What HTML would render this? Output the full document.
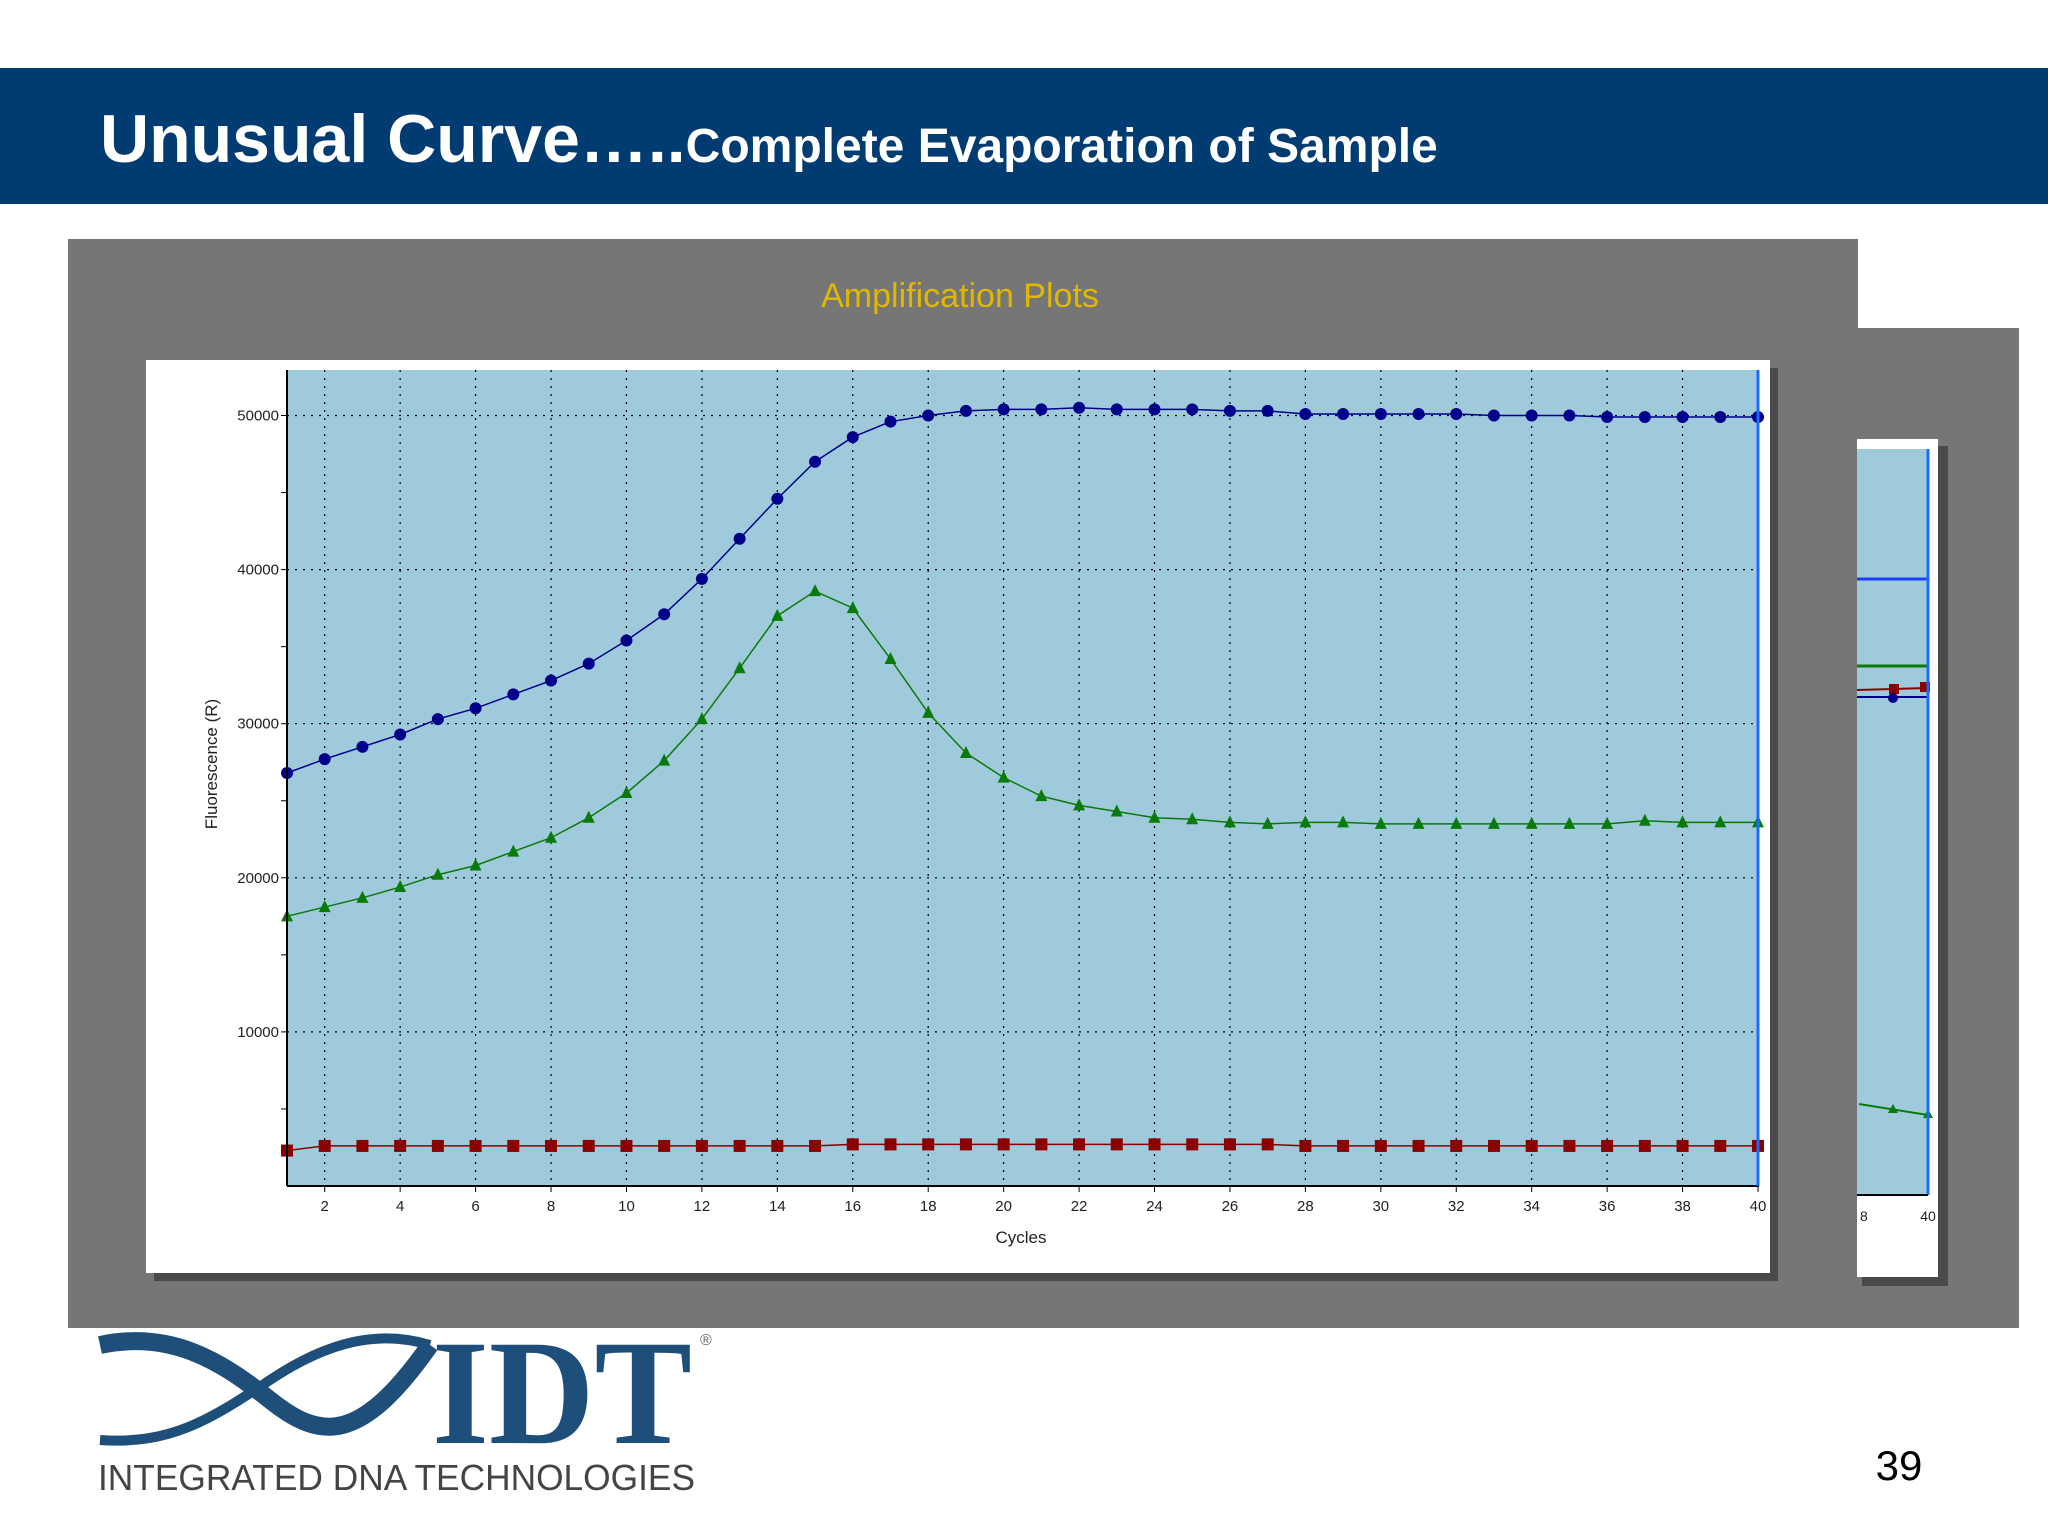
<!DOCTYPE html>
<html><head><meta charset="utf-8"><style>
html,body{margin:0;padding:0;background:#fff}
svg{display:block}
</style></head><body>
<svg id="s" width="2048" height="1536" viewBox="0 0 2048 1536" xmlns="http://www.w3.org/2000/svg" font-family="Liberation Sans, sans-serif">
<rect x="0" y="0" width="2048" height="1536" fill="#ffffff"/>
<rect x="0" y="68" width="2048" height="136" fill="#003b71"/>
<text x="100" y="162" fill="#fff" font-weight="bold" font-size="68">Unusual Curve…..<tspan font-size="48">Complete Evaporation of Sample</tspan></text>
<rect x="68" y="239" width="1790" height="1089" fill="#767676"/>
<rect x="1857" y="328" width="162" height="1000" fill="#767676"/>
<text x="960" y="307" text-anchor="middle" fill="#e0b800" font-size="34">Amplification Plots</text>
<rect x="154" y="368" width="1624" height="913" fill="#4a4a4a"/>
<rect x="146" y="360" width="1624" height="913" fill="#ffffff"/>
<rect x="287" y="370" width="1472" height="815" fill="#9fcadb"/>
<g id="grid"></g>
<g id="series"></g>
<line x1="287" y1="370" x2="287" y2="1186" stroke="#000" stroke-width="2"/>
<line x1="287" y1="1186" x2="1759" y2="1186" stroke="#000" stroke-width="2"/>
<line x1="1758" y1="370" x2="1758" y2="1186" stroke="#1a6cff" stroke-width="3"/>
<text transform="translate(217,764) rotate(-90)" text-anchor="middle" font-size="17" fill="#222">Fluorescence (R)</text>
<text x="1021" y="1243" text-anchor="middle" font-size="17" fill="#222">Cycles</text>
<!-- right mini panel -->
<rect x="1862" y="446" width="86" height="840" fill="#4a4a4a"/>
<rect x="1857" y="439" width="81" height="838" fill="#fff"/>
<rect x="1857" y="449" width="71" height="746" fill="#9fcadb"/>
<line x1="1857" y1="579" x2="1928" y2="579" stroke="#1a3cff" stroke-width="3"/>
<line x1="1857" y1="666" x2="1928" y2="666" stroke="#0a7a0a" stroke-width="3"/>
<line x1="1857" y1="690" x2="1928" y2="688" stroke="#8b0000" stroke-width="2"/>
<line x1="1857" y1="697" x2="1928" y2="697" stroke="#00008b" stroke-width="2"/>
<rect x="1889" y="684" width="10" height="10" fill="#8b0000"/>
<rect x="1920" y="682" width="10" height="10" fill="#8b0000"/>
<circle cx="1893" cy="698" r="5" fill="#00008b"/>
<line x1="1859" y1="1104" x2="1928" y2="1115" stroke="#0a7a0a" stroke-width="2"/>
<polygon points="1893,1104 1888,1113 1898,1113" fill="#0a7a0a"/>
<polygon points="1928,1109 1923,1118 1933,1118" fill="#0a7a0a"/>
<line x1="1928" y1="449" x2="1928" y2="1195" stroke="#1a6cff" stroke-width="3"/>
<line x1="1857" y1="1195" x2="1928" y2="1195" stroke="#000" stroke-width="2"/>
<text x="1860" y="1221" font-size="14" fill="#222">8</text>
<text x="1928" y="1221" font-size="14" fill="#222" text-anchor="middle">40</text>
<!-- logo -->
<g>
<path d="M100,1345 C170,1330 220,1360 270,1400 C320,1440 360,1445 430,1345" fill="none" stroke="#1e4f7a" stroke-width="18"/>
<path d="M100,1440 C170,1445 210,1420 270,1380 C330,1340 380,1330 430,1345" fill="none" stroke="#1e4f7a" stroke-width="10"/>
<text x="432" y="1443" font-family="Liberation Serif, serif" font-weight="bold" font-size="150" fill="#1e4f7a" textLength="260" lengthAdjust="spacingAndGlyphs">IDT</text>
<text x="700" y="1345" font-size="16" fill="#666">®</text>
<text x="98" y="1490" font-size="36" fill="#444" textLength="597" lengthAdjust="spacingAndGlyphs">INTEGRATED DNA TECHNOLOGIES</text>
</g>
<text x="1899" y="1480" text-anchor="middle" font-size="42" fill="#000">39</text>
</svg>
<script>
const cycles=[];for(let i=1;i<=40;i++)cycles.push(i);
const blueValues=[26800,27700,28500,29300,30300,31000,31900,32800,33900,35400,37100,39400,42000,44600,47000,48600,49600,50000,50300,50400,50400,50500,50400,50400,50400,50300,50300,50100,50100,50100,50100,50100,50000,50000,50000,49900,49900,49900,49900,49900];
const greenValues=[17500,18100,18700,19400,20200,20800,21700,22600,23900,25500,27600,30300,33600,37000,38600,37500,34200,30700,28100,26500,25300,24700,24300,23900,23800,23600,23500,23600,23600,23500,23500,23500,23500,23500,23500,23500,23700,23600,23600,23600];
const redValues=[2300,2600,2600,2600,2600,2600,2600,2600,2600,2600,2600,2600,2600,2600,2600,2700,2700,2700,2700,2700,2700,2700,2700,2700,2700,2700,2700,2600,2600,2600,2600,2600,2600,2600,2600,2600,2600,2600,2600,2600];
const yTicks=[10000,20000,30000,40000,50000];
const xTicks=[2,4,6,8,10,12,14,16,18,20,22,24,26,28,30,32,34,36,38,40];
const NS="http://www.w3.org/2000/svg";
const xs=c=>287+(c-1)*(1471/39);
const ys=v=>1186-v*0.01541;
function mk(t,a,p){const e=document.createElementNS(NS,t);for(const k in a)e.setAttribute(k,a[k]);p.appendChild(e);return e;}
const grid=document.getElementById('grid'),svg=document.getElementById('s'),ser=document.getElementById('series');
xTicks.forEach(c=>{
 const l=mk('line',{x1:xs(c),y1:370,x2:xs(c),y2:1186,stroke:'#000','stroke-width':1.2,'stroke-dasharray':'2,6'},grid);
 
 
 const t=mk('text',{x:xs(c),y:1211,'text-anchor':'middle','font-size':15,fill:'#222'},svg);
 t.textContent=c;
 
 
 mk('line',{x1:xs(c),y1:1186,x2:xs(c),y2:1192,stroke:'#000'},grid);
});
yTicks.forEach(v=>{
 const l=mk('line',{x1:287,y1:ys(v),x2:1759,y2:ys(v),stroke:'#000','stroke-width':1.2,'stroke-dasharray':'2,6'},grid);
 
 
 const t=mk('text',{x:279,y:ys(v)+5,'text-anchor':'end','font-size':15,fill:'#222'},svg);
 t.textContent=v;
 
 
});
for(let v=5000;v<=50000;v+=5000){mk('line',{x1:281,y1:ys(v),x2:287,y2:ys(v),stroke:'#000'},grid);}
function series(vals,color,shape,name){
 const pl=mk('polyline',{points:vals.map((v,i)=>xs(cycles[i])+','+ys(v)).join(' '),fill:'none',stroke:color,'stroke-width':1.5},ser);
 
 
 vals.forEach((v,i)=>{
  const x=xs(cycles[i]),y=ys(v);let m;
  if(shape==='c')m=mk('circle',{cx:x,cy:y,r:6,fill:color},ser);
  else if(shape==='s')m=mk('rect',{x:x-6,y:y-6,width:12,height:12,fill:color},ser);
  else m=mk('polygon',{points:`${x},${y-7} ${x-6},${y+5} ${x+6},${y+5}`,fill:color},ser);
  
  
 });
}
series(blueValues,'#00008b','c','blue-sample');
series(greenValues,'#0a7a0a','t','green-sample');
series(redValues,'#8b0000','s','red-sample');
</script>
</body></html>
